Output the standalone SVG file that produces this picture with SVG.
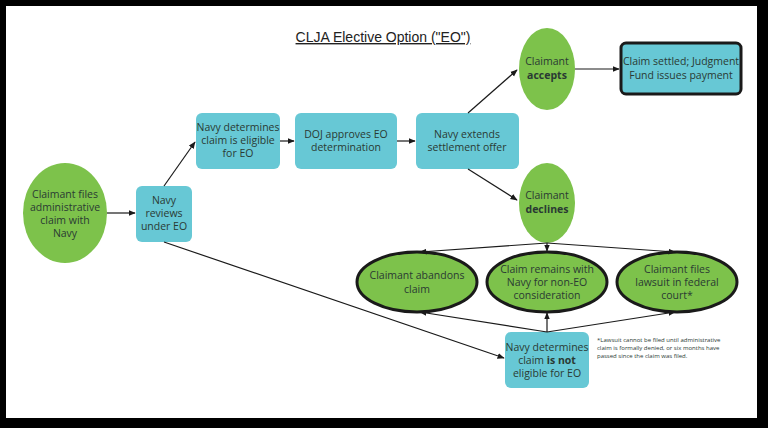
<svg xmlns="http://www.w3.org/2000/svg" width="768" height="428" viewBox="0 0 768 428">
<style>
text{font-family:"Open Sans","Liberation Sans",sans-serif;font-size:10.5px;fill:#2a3a33;text-anchor:middle}
.b{fill:#67c8d5}
.g{fill:#7dc24b}
.gt{fill:#7dc24b;stroke:#1a1a1a;stroke-width:3}
.e line{stroke:#1a1a1a;stroke-width:1.2;marker-end:url(#a)}
</style>
<defs><marker id="a" viewBox="0 0 10 10" refX="9" refY="5" markerWidth="6" markerHeight="6" orient="auto"><path d="M0,1L10,5L0,9z" fill="#1a1a1a"/></marker></defs>
<rect width="768" height="428" fill="#000"/>
<rect x="6" y="6" width="751" height="412" fill="#fff"/>
<text x="383" y="42" style="font-family:'Liberation Sans',sans-serif;font-size:14px;fill:#222;text-decoration:underline">CLJA Elective Option ("EO")</text>
<g id="n1"><ellipse class="g" cx="65" cy="213" rx="42" ry="50"/><text x="65" y="198">Claimant files</text><text x="65" y="211">administrative</text><text x="65" y="224">claim with</text><text x="65" y="237">Navy</text></g>
<g id="n2"><rect class="b" x="136" y="186" width="56" height="56" rx="6"/><text x="164" y="204">Navy</text><text x="164" y="217">reviews</text><text x="164" y="230">under EO</text></g>
<g id="n3"><rect class="b" x="196" y="113" width="84" height="56" rx="6"/><text x="238" y="131">Navy determines</text><text x="238" y="144">claim is eligible</text><text x="238" y="157">for EO</text></g>
<g id="n4"><rect class="b" x="295" y="113" width="102" height="56" rx="6"/><text x="346" y="138">DOJ approves EO</text><text x="346" y="151">determination</text></g>
<g id="n5"><rect class="b" x="416" y="113" width="103" height="56" rx="6"/><text x="467" y="138">Navy extends</text><text x="467" y="151">settlement offer</text></g>
<g id="n6"><ellipse class="g" cx="547" cy="69" rx="28" ry="41"/><text x="547" y="65">Claimant</text><text x="547" y="79" style="font-weight:bold">accepts</text></g>
<g id="n7"><rect class="b" x="621" y="43" width="120" height="51" rx="5" stroke="#1a1a1a" stroke-width="3"/><text x="681" y="65">Claim settled; Judgment</text><text x="681" y="79">Fund issues payment</text></g>
<g id="n8"><ellipse class="g" cx="547" cy="203" rx="28" ry="40"/><text x="547" y="199">Claimant</text><text x="547" y="213" style="font-weight:bold">declines</text></g>
<g id="n9"><ellipse class="gt" cx="417" cy="282" rx="60" ry="30"/><text x="417" y="279">Claimant abandons</text><text x="417" y="293">claim</text></g>
<g id="n10"><ellipse class="gt" cx="547" cy="282" rx="60" ry="30"/><text x="547" y="273">Claim remains with</text><text x="547" y="286">Navy for non-EO</text><text x="547" y="299">consideration</text></g>
<g id="n11"><ellipse class="gt" cx="677" cy="282" rx="60" ry="30"/><text x="677" y="273">Claimant files</text><text x="677" y="286">lawsuit in federal</text><text x="677" y="299">court*</text></g>
<g id="n12"><rect class="b" x="505" y="332" width="84" height="56" rx="6"/><text x="547" y="351">Navy determines</text><text x="547" y="364">claim <tspan style="font-weight:bold">is not</tspan></text><text x="547" y="377">eligible for EO</text></g>
<g id="note"><text x="597" y="342" style="text-anchor:start;font-size:6px">*Lawsuit cannot be filed until administrative</text><text x="597" y="350" style="text-anchor:start;font-size:6px">claim is formally denied, or six months have</text><text x="597" y="358" style="text-anchor:start;font-size:6px">passed since the claim was filed.</text></g>
<g class="e">
<line x1="107" y1="213" x2="135" y2="213"/>
<line x1="164" y1="186" x2="195" y2="142"/>
<line x1="280" y1="141" x2="294" y2="141"/>
<line x1="397" y1="141" x2="415" y2="141"/>
<line x1="468" y1="113" x2="517" y2="70"/>
<line x1="575" y1="69" x2="619" y2="69"/>
<line x1="468" y1="169" x2="517" y2="200"/>
<line x1="547" y1="243" x2="420" y2="252"/>
<line x1="547" y1="243" x2="547" y2="251"/>
<line x1="547" y1="243" x2="675" y2="252"/>
<line x1="164" y1="242" x2="504" y2="358"/>
<line x1="547" y1="332" x2="420" y2="312"/>
<line x1="547" y1="332" x2="547" y2="313"/>
<line x1="547" y1="332" x2="675" y2="312"/>
</g>
</svg>
